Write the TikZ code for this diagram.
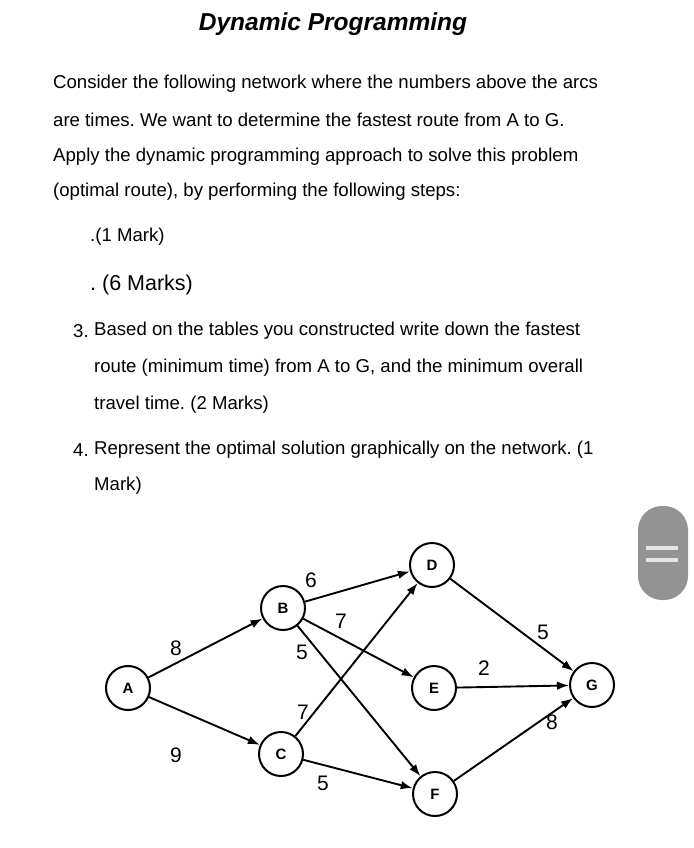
\documentclass[tikz,border=0pt]{standalone}
\usepackage{fontspec}
\setmainfont{Liberation Sans}
\usetikzlibrary{arrows.meta}
\frenchspacing
\begin{document}
\begin{tikzpicture}[x=1pt,y=-1pt,
  vert/.style={circle,draw,line width=2pt,minimum size=44pt,inner sep=0pt,font=\fontsize{15}{15}\selectfont\bfseries},
  arc/.style={-{Latex[length=12pt,width=8.5pt]},line width=1.9pt},
  lab/.style={font=\fontsize{21}{21}\selectfont},
  txt/.style={anchor=west,inner sep=0pt,font=\fontsize{18.6}{18.6}\selectfont}]
\useasboundingbox (0,0) rectangle (693,848);
\fill[white] (0,0) rectangle (693,848);
\node[inner sep=0pt] (title) at (333,24) {\fontsize{24.5}{24.5}\selectfont\bfseries\itshape Dynamic Programming};
\node[txt] (l1) at (53,84) {Consider the following network where the numbers above the arcs};
\node[txt] (l2) at (53,120) {are times. We want to determine the fastest route from A to G.};
\node[txt] (l3) at (53,157) {Apply the dynamic programming approach to solve this problem};
\node[txt] (l4) at (53,192) {(optimal route), by performing the following steps:};
\node[txt] (m1) at (90,237) {.(1 Mark)};
\node[txt,font=\fontsize{21.5}{21.5}\selectfont] (m2) at (90,285) {. (6 Marks)};
\node[txt] (n3) at (73,331) {3.};
\node[txt] (t31) at (94,331) {Based on the tables you constructed write down the fastest};
\node[txt] (t32) at (94,368) {route (minimum time) from A to G, and the minimum overall};
\node[txt] (t33) at (94,405) {travel time. (2 Marks)};
\node[txt] (n4) at (73,450) {4.};
\node[txt] (t41) at (94,450) {Represent the optimal solution graphically on the network. (1};
\node[txt] (t42) at (94,486) {Mark)};
% pill button
\fill[gray!85,rounded corners=24pt] (638,506) rectangle (688,600);
\fill[gray!20] (646,546) rectangle (678,550);
\fill[gray!20] (646,558) rectangle (678,562);
% graph
\node[vert] (A) at (128,688) {A};
\node[vert] (B) at (283,608) {B};
\node[vert] (C) at (281,754) {C};
\node[vert] (D) at (432,565) {D};
\node[vert] (E) at (434,688) {E};
\node[vert] (F) at (435,794) {F};
\node[vert] (G) at (592,685) {G};
\draw[arc] (A) -- (B);
\draw[arc] (A) -- (C);
\draw[arc] (B) -- (D);
\draw[arc] (B) -- (E);
\draw[arc] (B) -- (F);
\draw[arc] (C) -- (D);
\draw[arc] (C) -- (F);
\draw[arc] (D) -- (G);
\draw[arc] (E) -- (G);
\draw[arc] (F) -- (G);
\node[lab] (w1) at (176,648) {8};
\node[lab] (w2) at (176,755) {9};
\node[lab] (w3) at (311,580) {6};
\node[lab] (w4) at (341,621) {7};
\node[lab] (w5) at (302,652) {5};
\node[lab] (w6) at (303,712) {7};
\node[lab] (w7) at (323,783) {5};
\node[lab] (w8) at (543,632) {5};
\node[lab] (w9) at (484,668) {2};
\node[lab] (w10) at (552,722) {8};
\end{tikzpicture}
\end{document}
